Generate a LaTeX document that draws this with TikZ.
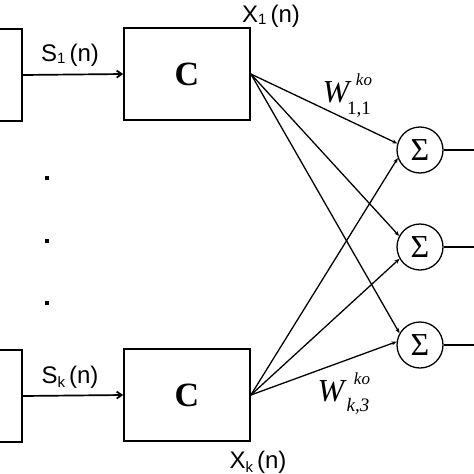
\documentclass[tikz,border=0pt]{standalone}
\usepackage{fontspec}
\setmainfont{Liberation Serif}
\newfontfamily\lblfont{Liberation Sans}
\usetikzlibrary{arrows.meta}
\begin{document}
\begin{tikzpicture}[x=1pt,y=-1pt,line width=1.7pt,
  blk/.style={draw,minimum width=126pt,minimum height=92pt,inner sep=0pt},
  sumnode/.style={draw,circle,minimum size=46pt,inner sep=0pt,line width=1.3pt,font=\fontsize{32}{32}\selectfont},
  sig/.style={font=\lblfont\fontsize{24}{24}\selectfont,inner sep=0pt},
  wbig/.style={font=\fontsize{32}{32}\selectfont\itshape,inner sep=0pt},
  wsup/.style={font=\fontsize{17}{17}\selectfont\itshape,inner sep=0pt},
  wsub/.style={font=\fontsize{19}{19}\selectfont,inner sep=0pt},
  inarrow/.style={-{Straight Barb[length=5pt,width=7pt]}},
  wire/.style={line width=1.3pt,-{Stealth[length=5pt,width=4pt]}},
  dotmark/.style={fill,minimum size=4pt,inner sep=0pt}]
\useasboundingbox (0,0) rectangle (474,474);
% left partial boxes
\node[blk,anchor=east] (src1) at (23,75) {};
\node[blk,anchor=east] (srck) at (23,396) {};
% C boxes
\node[blk] (c1) at (187,74) {\fontsize{34}{34}\selectfont\bfseries C};
\node[blk] (ck) at (187,395) {\fontsize{34}{34}\selectfont\bfseries C};
% sigma nodes
\node[sumnode] (s1) at (420,150) {Σ};
\node[sumnode] (s2) at (420,247) {Σ};
\node[sumnode] (s3) at (420,345) {Σ};
% outputs
\coordinate (o1) at (476,150);
\coordinate (o2) at (476,247);
\coordinate (o3) at (476,345);
\draw (s1.east) -- (o1);
\draw (s2.east) -- (o2);
\draw (s3.east) -- (o3);
% input arrows
\draw[inarrow] (src1.east) -- (c1.west);
\draw[inarrow] (srck.east) -- (ck.west);
% dots
\node[dotmark] (d1) at (47,178) {};
\node[dotmark] (d2) at (47,241) {};
\node[dotmark] (d3) at (47,303) {};
% fan-out
\draw[wire] (c1.east) -- (s1.164);
\draw[wire] (c1.east) -- (s2.152);
\draw[wire] (c1.east) -- (s3.150);
\draw[wire] (ck.east) -- (s1.200);
\draw[wire] (ck.east) -- (s2.210);
\draw[wire] (ck.east) -- (s3.172);
% labels
\node[sig] (ls1) at (70,55) {S\raisebox{-2pt}{\fontsize{15}{15}\selectfont 1}\,(n)};
\node[sig] (lsk) at (70,377) {S\raisebox{-4pt}{\fontsize{15}{15}\selectfont k}\,(n)};
\node[sig] (lx1) at (271,16) {X\raisebox{-2pt}{\fontsize{15}{15}\selectfont 1}\,(n)};
\node[sig] (lxk) at (258,462) {X\raisebox{-4pt}{\fontsize{15}{15}\selectfont k}\,(n)};
% weight labels
\node[wbig] (w11) at (336,92) {W};
\node[wsup] (w11sup) at (364,80) {ko};
\node[wsub] (w11sub) at (359,110) {1,1};
\node[wbig] (wk3) at (331,391) {W};
\node[wsup] (wk3sup) at (362,379) {ko};
\node[wsub,font=\fontsize{19}{19}\selectfont\itshape] (wk3sub) at (358,406) {k,3};
\end{tikzpicture}
\end{document}
